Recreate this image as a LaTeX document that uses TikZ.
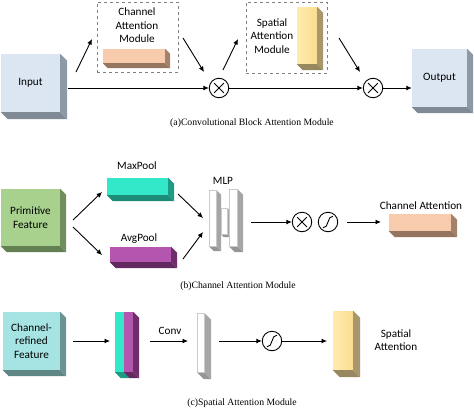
\documentclass[tikz,border=0pt]{standalone}
\usepackage{fontspec}
\setmainfont{Carlito}
\newfontfamily\capfont{Liberation Serif}
\usetikzlibrary{arrows.meta,calc,fit}
\definecolor{bluef}{HTML}{DCE6F2}
\definecolor{blues}{HTML}{8E99A6}
\definecolor{orf}{HTML}{F8CBAD}
\definecolor{ors}{HTML}{A3826B}
\definecolor{yelf}{HTML}{FBDC90}
\definecolor{yell}{HTML}{FFEBB0}
\definecolor{yels}{HTML}{A8976A}
\definecolor{grnf}{HTML}{A9D18E}
\definecolor{grns}{HTML}{6F8E5C}
\definecolor{cyf}{HTML}{33E8C8}
\definecolor{cys}{HTML}{1F9A85}
\definecolor{puf}{HTML}{B456AF}
\definecolor{pus}{HTML}{6E2E6B}
\definecolor{lcf}{HTML}{A6E4E4}
\definecolor{lcs}{HTML}{6A9494}
\definecolor{whs}{HTML}{A6A6A6}
\newcommand\face[6]{\node[fit={(#2,#3) (#4,#5)}, inner sep=0, #6] (#1) {};}
\newcommand\extr[4]{%
 \fill[#3] (#1.north east) -- ++(#2,#2) -- ([shift={(#2,#2)}]#1.south east) -- (#1.south east) -- cycle;
 \fill[#4] (#1.south west) -- (#1.south east) -- ([shift={(#2,#2)}]#1.south east) -- ([shift={(#2,#2)}]#1.south west) -- cycle;}
\tikzset{
 lbl/.style={font=\fontsize{11.2}{13.5}\selectfont, align=center, inner sep=0},
 arr/.style={-{Latex[length=5.5pt,width=5pt]}, line width=0.9pt},
 opc/.style={circle, draw, line width=0.9pt, minimum size=19.5pt, inner sep=0},
 captxt/.style={font=\capfont\fontsize{9.7}{11}\selectfont, inner sep=0},
 dbox/.style={draw=gray, dashed, line width=0.6pt},
 yelshade/.style={left color=yell, right color=yelf},
}
\newcommand\otimesmark[1]{\draw[line width=0.9pt] ([shift={(-4.9,-4.9)}]#1.center) -- ([shift={(4.9,4.9)}]#1.center) ([shift={(-4.9,4.9)}]#1.center) -- ([shift={(4.9,-4.9)}]#1.center);}
\newcommand\sigmark[1]{\draw[line width=0.9pt] ([shift={(-5,5.8)}]#1.center) .. controls ([shift={(1,6.5)}]#1.center) and ([shift={(-1,-6.5)}]#1.center) .. ([shift={(5,-5.8)}]#1.center);}
\begin{document}
\begin{tikzpicture}[x=1pt,y=-1pt]
\useasboundingbox[fill=white] (0,0) rectangle (474,410);
% ---------- (a)
\face{input}{1}{54}{60}{112}{fill=bluef}\extr{input}{7}{blues}{blues!90!black}
\node[lbl] (inputt) at (input) {Input};
\node[dbox, fit={(97,2) (178,72)}, inner sep=0] (cam) {};
\node[lbl] (camt) at (137,25.5) {Channel\\Attention\\Module};
\face{cambar}{103}{49}{165}{63}{fill=orf}\extr{cambar}{5}{ors}{ors!90!black}
\node[dbox, fit={(246,2) (327,73)}, inner sep=0] (sam) {};
\node[lbl] (samt) at (272,36) {Spatial\\Attention\\Module};
\face{sambar}{297}{7}{317}{64}{yelshade}\extr{sambar}{6}{yels}{yels!90!black}
\face{output}{412}{49}{467}{107}{fill=bluef}\extr{output}{6}{blues}{blues!90!black}
\node[lbl] (outputt) at (output) {Output};
\node[opc] (ot1) at (219,88) {};\otimesmark{ot1}
\node[opc] (ot2) at (373,88) {};\otimesmark{ot2}
\coordinate (a0) at (68,88);
\draw[arr] (a0) -- (ot1.west);
\draw[arr] (ot1.east) -- (ot2.west);
\draw[arr] (ot2.east) -- (ot2.east -| output.west);
\coordinate (d1s) at (76,72); \coordinate (d1e) at (92,39);
\coordinate (d2s) at (183,38); \coordinate (d2e) at (204,72);
\coordinate (d3s) at (223,70); \coordinate (d3e) at (238,39);
\coordinate (d4s) at (339,38); \coordinate (d4e) at (360,72);
\draw[arr] (d1s) -- (d1e);
\draw[arr] (d2s) -- (d2e);
\draw[arr] (d3s) -- (d3e);
\draw[arr] (d4s) -- (d4e);
\node[captxt] (capa) at (252,123) {(a)Convolutional Block Attention Module};
% ---------- (b)
\face{prim}{1}{189}{60}{246}{fill=grnf}\extr{prim}{6}{grns}{grns!90!black}
\node[lbl] (primt) at (prim) {Primitive\\Feature};
\face{maxp}{107}{178}{168}{195}{fill=cyf}\extr{maxp}{6}{cys}{cys!90!black}
\node[lbl] (maxpt) at (137,166) {MaxPool};
\face{avgp}{110}{247}{171}{262}{fill=puf}\extr{avgp}{6}{pus}{pus!90!black}
\node[lbl] (avgpt) at (139,239) {AvgPool};
\face{m1}{209}{190}{216}{246}{fill=white}\extr{m1}{5}{whs}{whs!90!black}
\face{m2}{221}{208}{227}{234}{fill=white}\extr{m2}{3}{whs}{whs!90!black}
\face{m3}{229}{189}{237}{246}{fill=white}\extr{m3}{6}{whs}{whs!90!black}
\draw[whs!60, line width=0.3pt] (m1.north west) rectangle (m1.south east) (m2.north west) rectangle (m2.south east) (m3.north west) rectangle (m3.south east);
\node[lbl] (mlpt) at (223,181) {MLP};
\coordinate (b1s) at (73,220); \coordinate (b1e) at (102,192);
\coordinate (b2s) at (73,227); \coordinate (b2e) at (102,255);
\coordinate (b3s) at (178,194); \coordinate (b3e) at (203,218);
\coordinate (b4s) at (183,259); \coordinate (b4e) at (203,232);
\draw[arr] (b1s) -- (b1e);
\draw[arr] (b2s) -- (b2e);
\draw[arr] (b3s) -- (b3e);
\draw[arr] (b4s) -- (b4e);
\node[opc] (ot3) at (302,222) {};\otimesmark{ot3}
\node[opc] (sg1) at (328,222) {};\sigmark{sg1}
\coordinate (b5s) at (251,222);
\draw[arr] (b5s) -- (ot3.west);
\face{ca}{389}{214}{451}{231}{fill=orf}\extr{ca}{6}{ors}{ors!90!black}
\node[lbl] (cat) at (421,206) {Channel Attention};
\coordinate (b6s) at (347,222); \coordinate (b6e) at (381,222);
\draw[arr] (b6s) -- (b6e);
\node[captxt] (capb) at (238,286) {(b)Channel Attention Module};
% ---------- (c)
\face{crf}{3}{312}{60}{370}{fill=lcf}\extr{crf}{6}{lcs}{lcs!90!black}
\node[lbl] (crft) at (crf) {Channel-\\refined\\Feature};
\face{stc}{115}{312}{124}{372}{fill=cyf}
\face{stp}{124}{312}{133}{372}{fill=puf}
\fill[cys] (stc.south west) -- (stc.south east) -- ++(6,6) -- ([shift={(6,6)}]stc.south west) -- cycle;
\extr{stp}{6}{pus}{pus!90!black}
\face{cv}{197}{313}{204}{372}{fill=white}\extr{cv}{7}{whs}{whs!90!black}
\draw[whs!60, line width=0.3pt] (cv.north west) rectangle (cv.south east);
\node[lbl] (convt) at (170,331) {Conv};
\node[opc] (sg2) at (272,341) {};\sigmark{sg2}
\face{sa}{333}{311}{353}{370}{yelshade}\extr{sa}{7}{yels}{yels!90!black}
\node[lbl] (sat) at (396,340) {Spatial\\Attention};
\coordinate (c1s) at (73,341); \coordinate (c1e) at (110,341);
\coordinate (c2s) at (150,341); \coordinate (c2e) at (188,341);
\coordinate (c3s) at (219,341);
\coordinate (c4e) at (327,341);
\draw[arr] (c1s) -- (c1e);
\draw[arr] (c2s) -- (c2e);
\draw[arr] (c3s) -- (sg2.west);
\draw[arr] (sg2.east) -- (c4e);
\node[captxt] (capc) at (242,403) {(c)Spatial Attention Module};
\end{tikzpicture}
\end{document}
